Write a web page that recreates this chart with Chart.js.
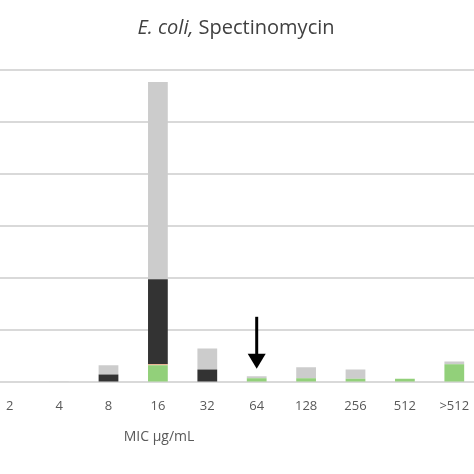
<!DOCTYPE html>
<html><head><meta charset="utf-8">
<script src="https://cdn.jsdelivr.net/npm/chart.js@4"></script>
<style>html,body{margin:0;padding:0;background:#fff;overflow:hidden}
#w{position:absolute;left:-15px;top:0;width:494px;height:474px}</style>
</head><body><div id="w"><canvas id="c"></canvas></div>
<script>
const categories=['2','4','8','16','32','64','128','256','512','>512'];
const green=[0,0,0,3.3,0,0.8,0.8,0.7,0.7,3.5];
const orange=[0,0,0,0.2,0,0,0,0,0,0];
const black=[0,0,1.5,16.3,2.5,0,0,0,0,0];
const gray=[0,0.2,1.8,37.9,4.0,0.4,2.1,1.8,0,0.5];
const arrowCat='64', arrowFrom=12.6, arrowTo=2.6;
const extras={id:'extras',afterDraw(ch){
 const c=ch.ctx,x=ch.scales.x,y=ch.scales.y;
 const ax=x.getPixelForValue(categories.indexOf(arrowCat));
 const y1=y.getPixelForValue(arrowFrom),y2=y.getPixelForValue(arrowTo);
 c.save();c.strokeStyle='#000';c.fillStyle='#000';c.lineWidth=3;
 c.beginPath();c.moveTo(ax,y1);c.lineTo(ax,y2-12);c.stroke();
 c.beginPath();c.moveTo(ax-9,y2-15);c.lineTo(ax+9,y2-15);c.lineTo(ax,y2);c.closePath();c.fill();
 c.font='14px "Open Sans", sans-serif';c.fillStyle='#595959';c.textAlign='center';c.textBaseline='middle';
 c.fillText('MIC µg/mL',174,437);
 c.fillStyle='#404040';
 const a='E. coli,',b=' Spectinomycin';
 c.font='italic 20px "Open Sans", sans-serif';const wa=c.measureText(a).width;
 c.font='20px "Open Sans", sans-serif';const wb=c.measureText(b).width;
 let sx=251-(wa+wb)/2;c.textAlign='left';
 c.font='italic 20px "Open Sans", sans-serif';c.fillText(a,sx,28);
 c.font='20px "Open Sans", sans-serif';c.fillText(b,sx+wa,28);
 c.restore();}};
const mk=(label,data,color)=>({label,data,backgroundColor:color,barPercentage:0.4,categoryPercentage:1});
new Chart(document.getElementById('c'),{type:'bar',
 data:{labels:categories,datasets:[mk('green',green,'#92d07a'),mk('orange',orange,'#f4b183'),mk('black',black,'#333333'),mk('gray',gray,'#cccccc')]},
 plugins:[extras],
 options:{responsive:true,maintainAspectRatio:false,animation:false,
  layout:{padding:{top:70,bottom:52,left:0,right:0}},
  plugins:{legend:{display:false},tooltip:{enabled:false}},
  scales:{x:{stacked:true,grid:{display:false},border:{color:'#d9d9d9',width:2},
    ticks:{color:'#595959',font:{size:13,family:'"Open Sans", sans-serif'},padding:8}},
   y:{stacked:true,min:0,max:60,afterFit(s){s.width=0},ticks:{display:false,stepSize:10},border:{display:false},
    grid:{color:'#d9d9d9',lineWidth:2,drawTicks:false}}}
 }});
</script></body></html>
